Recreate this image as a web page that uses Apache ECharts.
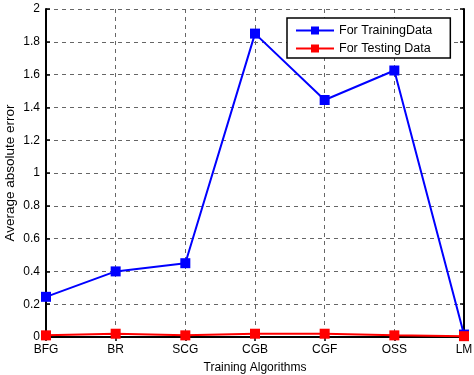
<!DOCTYPE html>
<html><head><meta charset="utf-8">
<script src="https://cdn.jsdelivr.net/npm/echarts@6/dist/echarts.min.js"></script>
<style>html,body{margin:0;padding:0;background:#fff}#c{width:474px;height:375px}</style>
</head><body><div id="c"></div>
<script>
const categories = ['BFG','BR','SCG','CGB','CGF','OSS','LM'];
const trainingData = [0.245, 0.40, 0.45, 1.85, 1.445, 1.625, 0.015];
const testingData = [0.01, 0.02, 0.01, 0.02, 0.02, 0.01, 0.005];
const yTicks = [0, 0.2, 0.4, 0.6, 0.8, 1, 1.2, 1.4, 1.6, 1.8, 2];

const font = 'Liberation Sans, Arial, sans-serif';
const chart = echarts.init(document.getElementById('c'));
const axisLine = {show:true, lineStyle:{color:'#000', width:2}};
chart.setOption({
  animation:false,
  backgroundColor:'#fff',
  grid:{left:46, right:10, top:9, bottom:38, containLabel:false, outerBoundsMode:'none'},
  legend:{
    data:['For TrainingData','For Testing Data'],
    orient:'vertical', left:287, top:18,
    itemWidth:38, itemHeight:10, itemGap:5,
    padding:[6,18,3,8],
    borderColor:'#000', borderWidth:1.5, backgroundColor:'#fff',
    textStyle:{fontFamily:font, fontSize:12.5, color:'#000'}
  },
  xAxis:[{
    type:'category', data:categories, boundaryGap:false,
    name:'Training Algorithms', nameLocation:'middle', nameGap:25, nameMoveOverlap:false,
    nameTextStyle:{fontFamily:font, fontSize:12, color:'#000'},
    axisLine:axisLine,
    axisTick:{show:true, inside:true, length:4, lineStyle:{color:'#000', width:1.5}},
    axisLabel:{fontFamily:font, fontSize:12, color:'#000', margin:7, interval:0},
    splitLine:{show:true, lineStyle:{color:'#666', type:[4,4], width:1}}
  },{
    type:'category', data:categories, boundaryGap:false, position:'top',
    axisLine:axisLine,
    axisTick:{show:true, inside:true, length:4, lineStyle:{color:'#000', width:1.5}},
    axisLabel:{show:false}, splitLine:{show:false}
  }],
  yAxis:[{
    type:'value', min:0, max:2, interval:0.2,
    name:'Average absolute error', nameLocation:'middle', nameGap:29, nameMoveOverlap:false,
    nameTextStyle:{fontFamily:font, fontSize:13.5, color:'#000'},
    axisLine:axisLine,
    axisTick:{show:true, inside:true, length:4, lineStyle:{color:'#000', width:1.5}},
    axisLabel:{fontFamily:font, fontSize:12, color:'#000', margin:6,
      formatter:v=>{const t=yTicks.find(x=>Math.abs(x-v)<1e-9); return t===undefined?'':String(t);}},
    splitLine:{show:true, lineStyle:{color:'#666', type:[4,4], width:1}}
  },{
    type:'value', min:0, max:2, interval:0.2, position:'right',
    axisLine:axisLine,
    axisTick:{show:true, inside:true, length:4, lineStyle:{color:'#000', width:1.5}},
    axisLabel:{show:false}, splitLine:{show:false}
  }],
  series:[{
    name:'For TrainingData', type:'line', data:trainingData,
    symbol:'rect', symbolSize:10,
    lineStyle:{color:'#0000ff', width:2}, itemStyle:{color:'#0000ff'}, z:3
  },{
    name:'For Testing Data', type:'line', data:testingData,
    symbol:'rect', symbolSize:10,
    lineStyle:{color:'#ff0000', width:2}, itemStyle:{color:'#ff0000'}, z:4
  }]
});
</script></body></html>
